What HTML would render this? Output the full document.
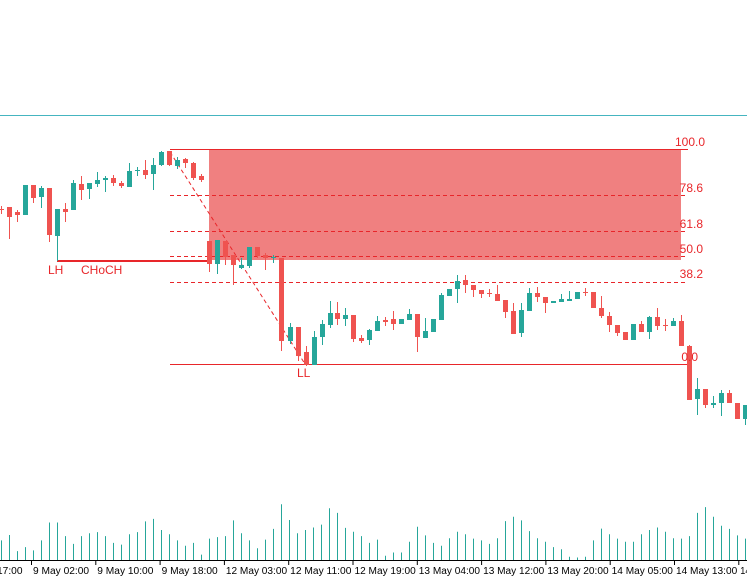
<!DOCTYPE html>
<html><head><meta charset="utf-8"><style>
html,body{margin:0;padding:0;background:#fff;width:747px;height:580px;overflow:hidden}
svg{display:block}
</style></head><body>
<svg id="s" width="747" height="580" xmlns="http://www.w3.org/2000/svg" font-family="Liberation Sans, sans-serif">
<rect width="747" height="580" fill="#fff"/>
<line x1="0" y1="115.5" x2="747" y2="115.5" stroke="#45b5c0" stroke-width="1"/>
<rect x="209" y="149" width="472" height="111" fill="#F08080"/>
<line x1="170" y1="149.5" x2="688" y2="149.5" stroke="#e8262a"/>
<g stroke="#e8262a" stroke-dasharray="4,3">
<line x1="170" y1="195.5" x2="688" y2="195.5"/>
<line x1="170" y1="231.5" x2="688" y2="231.5"/>
<line x1="170" y1="256.5" x2="688" y2="256.5"/>
<line x1="170" y1="282.5" x2="688" y2="282.5"/>
<line x1="170" y1="152" x2="305" y2="364"/>
</g>
<line x1="170" y1="364.5" x2="688" y2="364.5" stroke="#e8262a"/>
<line x1="57" y1="261" x2="209" y2="261" stroke="#e8262a" stroke-width="2"/>
<g id="c"></g>
<g fill="#e8262a" font-size="12">
<text x="705" y="146" text-anchor="end">100.0</text>
<text x="703" y="192" text-anchor="end">78.6</text>
<text x="703" y="228" text-anchor="end">61.8</text>
<text x="703" y="253" text-anchor="end">50.0</text>
<text x="703" y="278" text-anchor="end">38.2</text>
<text x="698" y="361" text-anchor="end">0.0</text>
<text x="48" y="274">LH</text>
<text x="81" y="274">CHoCH</text>
<text x="297" y="377">LL</text>
</g>
<g id="v"></g>
<line x1="0" y1="560.5" x2="747" y2="560.5" stroke="#000"/>
<g id="t" font-size="10" fill="#000"></g>
</svg>
<script>
var T="#26a69a",R="#ef5350";
var d=[[1,209,209,206,214],[9,207,217,207,239],[17,212,215,210,222],[25,215,185,185,215],[33,185,198,185,203],[41,197,188,186,208],[49,188,235,188,242],[57,236,209,209,261],[65,209,212,203,222],[73,210,183,180,210],[81,184,190,176,200],[89,189,183,183,199],[97,184,180,172,187],[105,180,178,176,192],[113,178,183,175,186],[121,183,186,181,188],[129,187,171,163,187],[137,171,170,167,176],[145,170,175,160,179],[153,174,165,158,190],[161,165,152,151,166],[169,151,165,151,166],[177,166,160,157,169],[185,159,163,158,168],[193,163,178,162,180],[201,176,180,174,182],
[209,241,264,241,272],[217,264,240,240,274],[225,241,257,241,265],[233,255,265,255,285],[241,268,265,258,269],[249,266,247,247,268],[257,247,256,247,258],[265,255,258,253,270],[273,258,257,255,263],[281,258,341,258,351],[290,341,327,323,344],[298,327,356,327,361],[306,352,365,346,366],[314,365,337,331,365],[322,337,324,320,345],[330,325,313,301,328],[337,313,319,302,325],[345,319,315,308,326],[353,315,339,315,342],[361,338,341,335,343],[369,340,330,329,345],[377,331,321,316,331],[385,320,322,317,326],[393,319,324,311,330],[401,324,319,319,324],[409,320,314,309,320],[417,314,337,314,352],[425,338,331,318,338],[433,332,319,319,332],[441,320,295,293,320],[449,296,289,289,296],[457,289,281,275,303],[465,280,285,275,293],[473,285,290,285,297],[481,290,294,290,298],[489,293,294,289,297],[497,294,301,285,301],[505,300,312,300,318],[513,311,334,303,334],[521,333,310,303,337],[529,311,293,288,311],[537,293,297,287,302],[545,297,303,297,313],[553,303,301,301,303],[561,302,299,294,302],[569,301,299,291,301],[577,299,292,292,299],[585,292,293,288,296],[593,292,308,292,308],[601,308,316,296,318],[609,316,325,312,332],[617,325,333,325,336],[625,332,340,332,340],[633,340,324,324,340],[641,324,332,321,332],[649,332,317,316,339],[657,317,326,308,330],[665,325,326,319,331],[673,326,321,318,326],[681,321,346,315,346],[689,346,400,345,400],[697,399,389,378,415],[705,389,405,389,408],[713,405,403,396,408],[721,403,393,390,416],[729,393,403,390,403],[737,403,419,403,419],[745,419,405,405,425]];
var g=document.getElementById("c"),h="";
d.forEach(function(c){var col=c[2]<c[1]?T:R;var top=Math.min(c[1],c[2]),bh=Math.max(1,Math.abs(c[1]-c[2]));
h+='<line x1="'+(c[0]+.5)+'" y1="'+c[3]+'" x2="'+(c[0]+.5)+'" y2="'+c[4]+'" stroke="'+col+'"/>';
h+='<rect x="'+(c[0]-2)+'" y="'+top+'" width="5" height="'+bh+'" fill="'+col+'"/>';});
g.innerHTML=h;
var vv=[113,98,143,132,141,113,63,63,101,123,101,93,90,101,120,125,96,90,60,53,84,96,113,128,120,153,108,104,101,57,93,113,135,111,81,12,56,93,84,77,69,23,36,78,89,101,120,111,156,147,147,117,75,99,120,128,107,89,96,108,113,123,107,59,47,57,87,107,117,132,138,159,161,159,113,80,96,108,117,117,96,84,77,89,107,108,101,36,20,47,72,81,99,108,99];
h="";vv.forEach(function(v,i){var x=1+8*i+.5;h+='<line x1="'+x+'" y1="'+(500+v/2.8)+'" x2="'+x+'" y2="560" stroke="'+T+'"/>';});
document.getElementById("v").innerHTML=h;
var L=["17:00","9 May 02:00","9 May 10:00","9 May 18:00","12 May 03:00","12 May 11:00","12 May 19:00","13 May 04:00","13 May 12:00","13 May 20:00","14 May 05:00","14 May 13:00","14"];
h="";L.forEach(function(s,i){var x=i==0?-3:33+64.3*(i-1);if(i>0)h+='<line x1="'+(x-1.5)+'" y1="561" x2="'+(x-1.5)+'" y2="565" stroke="#000"/>';h+='<text x="'+x+'" y="574" textLength="'+(s.length*5.1)+'" lengthAdjust="spacingAndGlyphs">'+s+'</text>';});
document.getElementById("t").innerHTML=h;
</script>
</body></html>
